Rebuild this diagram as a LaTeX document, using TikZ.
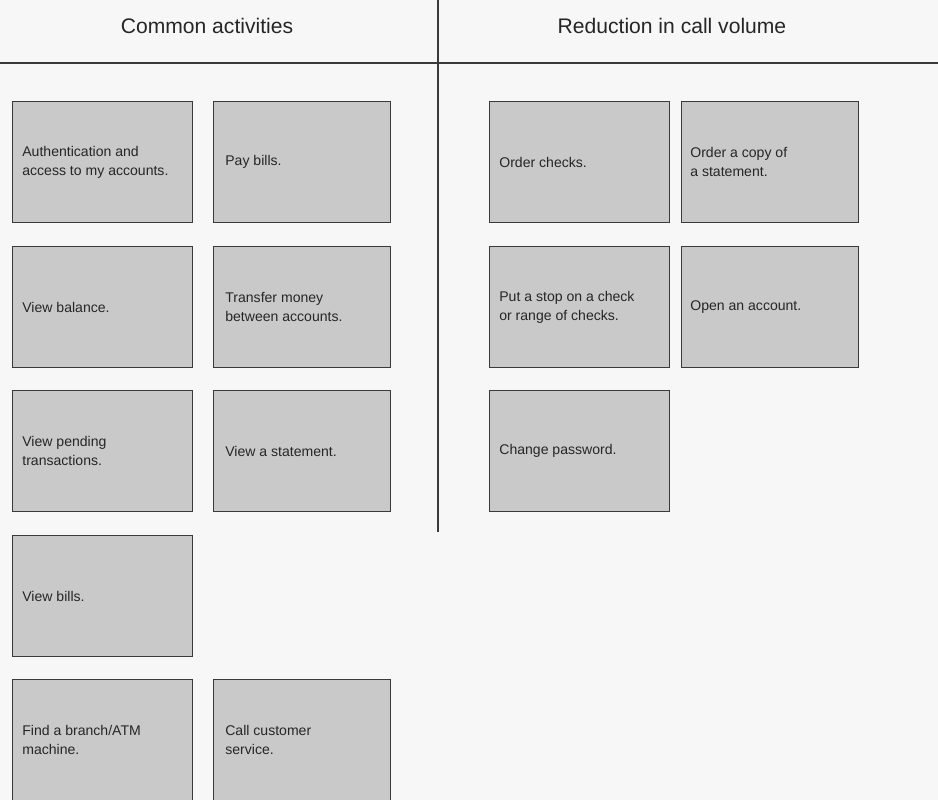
\documentclass[tikz,border=0pt]{standalone}
\usepackage{fontspec}
\setmainfont{Liberation Sans}
\usetikzlibrary{positioning}
\definecolor{bg}{HTML}{F7F7F7}
\definecolor{boxfill}{HTML}{C9C9C9}
\definecolor{boxline}{HTML}{3A3A3A}
\begin{document}
\begin{tikzpicture}[x=0.02cm,y=-0.02cm,
      activity/.style={draw=boxline, fill=boxfill, line width=0.8pt, minimum height=121*0.02cm, anchor=north west},
      wide/.style={activity, minimum width=180*0.02cm},
      narrow/.style={activity, minimum width=177*0.02cm},
      label/.style={font=\fontsize{8}{11}\selectfont, align=left, anchor=west, inner sep=0pt, color=black!85},
      heading/.style={font=\fontsize{12}{14}\selectfont, color=black!85}]
      \fill[bg] (0,0) rectangle (938,800);
      \useasboundingbox (0,0) rectangle (938,800);
      \draw[boxline, line width=0.7pt] (0,63) -- (938,63);
      \draw[boxline, line width=0.7pt] (438,0) -- (438,532);
      \node[heading] (common) at (207,26) {Common activities};
      \node[heading] (reduction) at (672,26) {Reduction in call volume};
      % common activities
      \node[wide] (auth) at (12,101) {};
      \node[label] at ([xshift=10*0.02cm]auth.west) {Authentication and\\access to my accounts.};
      \node[narrow] (pay) at (213,101) {};
      \node[label] at ([xshift=12*0.02cm]pay.west) {Pay bills.};
      \node[wide] (balance) at (12,246) {};
      \node[label] at ([xshift=10*0.02cm]balance.west) {View balance.};
      \node[narrow] (transfer) at (213,246) {};
      \node[label] at ([xshift=12*0.02cm]transfer.west) {Transfer money\\between accounts.};
      \node[wide] (pending) at (12,390) {};
      \node[label] at ([xshift=10*0.02cm]pending.west) {View pending\\transactions.};
      \node[narrow] (statement) at (213,390) {};
      \node[label] at ([xshift=12*0.02cm]statement.west) {View a statement.};
      \node[wide] (bills) at (12,535) {};
      \node[label] at ([xshift=10*0.02cm]bills.west) {View bills.};
      \node[wide] (branch) at (12,679) {};
      \node[label] at ([xshift=10*0.02cm]branch.west) {Find a branch/ATM\\machine.};
      \node[narrow] (service) at (213,679) {};
      \node[label] at ([xshift=12*0.02cm]service.west) {Call customer\\service.};
      % reduction in call volume
      \node[wide] (checks) at (489,101) {};
      \node[label] at ([xshift=10*0.02cm]checks.west) {Order checks.};
      \node[narrow] (copy) at (681,101) {};
      \node[label] at ([xshift=9*0.02cm]copy.west) {Order a copy of\\a statement.};
      \node[wide] (stop) at (489,246) {};
      \node[label] at ([xshift=10*0.02cm]stop.west) {Put a stop on a check\\or range of checks.};
      \node[narrow] (open) at (681,246) {};
      \node[label] at ([xshift=9*0.02cm]open.west) {Open an account.};
      \node[wide] (password) at (489,390) {};
      \node[label] at ([xshift=10*0.02cm]password.west) {Change password.};
\end{tikzpicture}
\end{document}
